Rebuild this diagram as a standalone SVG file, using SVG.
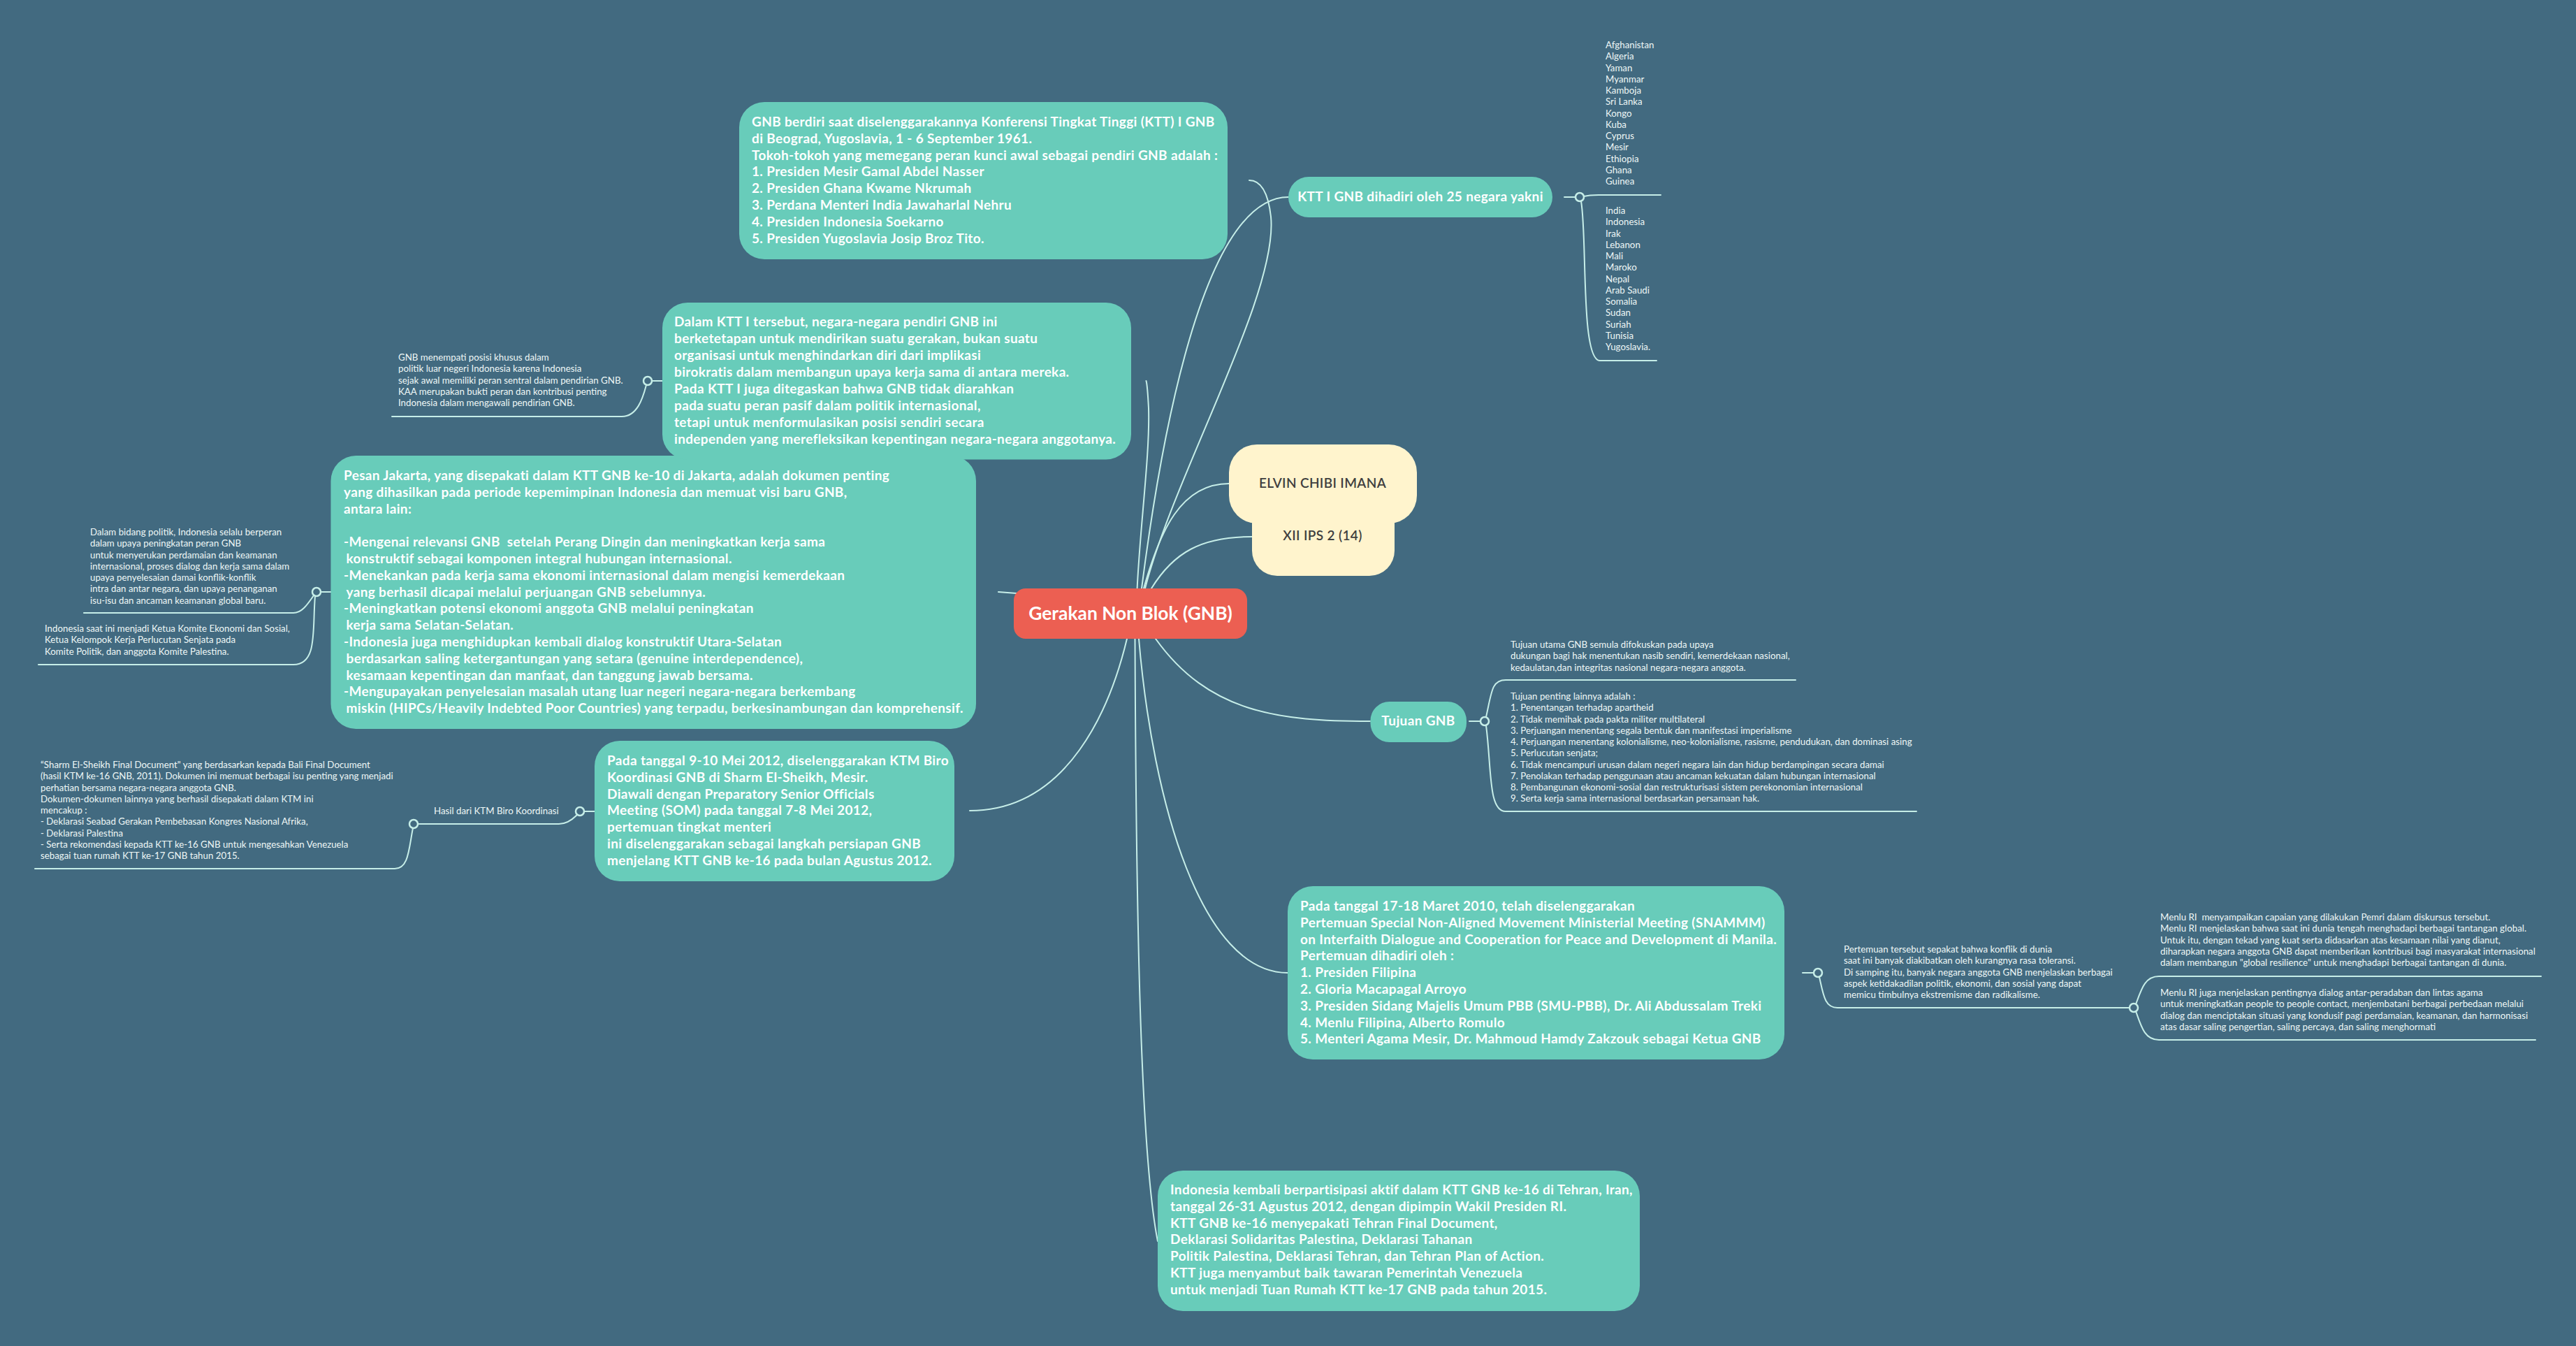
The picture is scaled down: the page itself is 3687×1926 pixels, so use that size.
<svg xmlns="http://www.w3.org/2000/svg" width="3687" height="1926" viewBox="0 0 3687 1926">
<style>
.t{fill:#68ccba}.y{fill:#fff4cd}
text{font-family:"Lato","Noto Sans",sans-serif;white-space:pre}
.b{font-size:19px;letter-spacing:.35px;font-weight:700;fill:#fff}
.s{font-size:13.3px;font-weight:400;fill:#eef7f6}
.c{fill:none;stroke:#c6eee8;stroke-width:2;stroke-linecap:round}
.d{fill:none;stroke:#c6eee8;stroke-width:2.5}
.m{text-anchor:middle}
</style>
<rect width="3687" height="1926" fill="#426a80"/>
<g id="connectors">
<path class="c" d="M1639 842C1680 680 1830 420 1819 310C1815 275 1805 258 1788 258"/>
<path class="c" d="M1634 842C1660 640 1720 282 1844 282"/>
<path class="c" d="M1627.6 842C1632 750 1646 650 1644 584C1643 565 1642 550 1640.5 545"/>
<path class="c" d="M1637 842C1660 760 1690 692 1759 692"/>
<path class="c" d="M1648 842C1680 790 1720 768 1792 768"/>
<path class="c" d="M1429 847L1455 849"/>
<path class="c" d="M1613 914C1590 1010 1530 1160 1388 1160"/>
<path class="c" d="M1654 914C1730 1020 1830 1032 1961 1032"/>
<path class="c" d="M1630 914C1650 1150 1720 1392 1843 1392"/>
<path class="c" d="M1624.5 914C1626 1300 1632 1650 1657 1776"/>
<path class="c" d="M948 545H933M925 551C920 570 912 596 890 596H561"/>
<circle class="d" cx="927" cy="545" r="6"/>
<path class="c" d="M474 847H459M449 852C440 865 432 877 420 877H120M451 853C447 900 455 951 420 951H55"/>
<circle class="d" cx="453" cy="847" r="6"/>
<path class="c" d="M851 1161H836M826 1166C820 1172 812 1179 800 1179H598M591 1185C585 1215 585 1243 565 1243H50"/>
<circle class="d" cx="830" cy="1161" r="6"/>
<circle class="d" cx="592" cy="1179" r="6"/>
<path class="c" d="M2239 282H2255M2267 281C2275 279 2280 279 2290 279H2377M2263 288C2272 340 2262 516 2290 516H2371"/>
<circle class="d" cx="2261" cy="282" r="6"/>
<path class="c" d="M2103 1032H2119M2127 1026C2135 990 2135 973 2155 973H2570M2127 1038C2135 1100 2130 1161 2155 1161H2743"/>
<circle class="d" cx="2125" cy="1032" r="6"/>
<path class="c" d="M2580 1392H2596M2604 1398C2610 1425 2612 1442 2630 1442H3048M3057 1437C3065 1415 3070 1397 3090 1397H3637M3057 1447C3065 1470 3070 1488 3090 1488H3629"/>
<circle class="d" cx="2602" cy="1392" r="6"/>
<circle class="d" cx="3054" cy="1442" r="6"/>
</g>
<g id="node-pesan-jakarta">
<rect class="t" x="473.500" y="652" width="923.500" height="391" rx="36"/>
<text class="b" y="687"><tspan x="492">Pesan Jakarta, yang disepakati dalam KTT GNB ke-10 di Jakarta, adalah dokumen penting</tspan><tspan x="492" dy="23.8">yang dihasilkan pada periode kepemimpinan Indonesia dan memuat visi baru GNB,</tspan><tspan x="492" dy="23.8">antara lain:</tspan><tspan x="492" dy="47.600">-Mengenai relevansi GNB  setelah Perang Dingin dan meningkatkan kerja sama</tspan><tspan x="495.500" dy="23.8">konstruktif sebagai komponen integral hubungan internasional.</tspan><tspan x="492" dy="23.8">-Menekankan pada kerja sama ekonomi internasional dalam mengisi kemerdekaan</tspan><tspan x="495.500" dy="23.8">yang berhasil dicapai melalui perjuangan GNB sebelumnya.</tspan><tspan x="492" dy="23.8">-Meningkatkan potensi ekonomi anggota GNB melalui peningkatan</tspan><tspan x="495.500" dy="23.8">kerja sama Selatan-Selatan.</tspan><tspan x="492" dy="23.8">-Indonesia juga menghidupkan kembali dialog konstruktif Utara-Selatan</tspan><tspan x="495.500" dy="23.8">berdasarkan saling ketergantungan yang setara (genuine interdependence),</tspan><tspan x="495.500" dy="23.8">kesamaan kepentingan dan manfaat, dan tanggung jawab bersama.</tspan><tspan x="492" dy="23.8">-Mengupayakan penyelesaian masalah utang luar negeri negara-negara berkembang</tspan><tspan x="495.500" dy="23.8">miskin (HIPCs/Heavily Indebted Poor Countries) yang terpadu, berkesinambungan dan komprehensif.</tspan></text>
</g>
<g id="node-ktt-keputusan">
<rect class="t" x="948" y="433" width="671" height="224.500" rx="36"/>
<text class="b" y="467"><tspan x="965">Dalam KTT I tersebut, negara-negara pendiri GNB ini</tspan><tspan x="965" dy="24">berketetapan untuk mendirikan suatu gerakan, bukan suatu</tspan><tspan x="965" dy="24">organisasi untuk menghindarkan diri dari implikasi</tspan><tspan x="965" dy="24">birokratis dalam membangun upaya kerja sama di antara mereka.</tspan><tspan x="965" dy="24">Pada KTT I juga ditegaskan bahwa GNB tidak diarahkan</tspan><tspan x="965" dy="24">pada suatu peran pasif dalam politik internasional,</tspan><tspan x="965" dy="24">tetapi untuk menformulasikan posisi sendiri secara</tspan><tspan x="965" dy="24">independen yang merefleksikan kepentingan negara-negara anggotanya.</tspan></text>
</g>
<g id="node-gnb-berdiri">
<rect class="t" x="1058" y="146" width="699" height="225" rx="36"/>
<text class="b" y="181"><tspan x="1076">GNB berdiri saat diselenggarakannya Konferensi Tingkat Tinggi (KTT) I GNB</tspan><tspan x="1076" dy="23.8">di Beograd, Yugoslavia, 1 - 6 September 1961.</tspan><tspan x="1076" dy="23.8">Tokoh-tokoh yang memegang peran kunci awal sebagai pendiri GNB adalah :</tspan><tspan x="1076" dy="23.8">1. Presiden Mesir Gamal Abdel Nasser</tspan><tspan x="1076" dy="23.8">2. Presiden Ghana Kwame Nkrumah</tspan><tspan x="1076" dy="23.8">3. Perdana Menteri India Jawaharlal Nehru</tspan><tspan x="1076" dy="23.8">4. Presiden Indonesia Soekarno</tspan><tspan x="1076" dy="23.8">5. Presiden Yugoslavia Josip Broz Tito.</tspan></text>
</g>
<g id="node-ktm-biro">
<rect class="t" x="851" y="1060" width="515" height="201" rx="36"/>
<text class="b" y="1095"><tspan x="869">Pada tanggal 9-10 Mei 2012, diselenggarakan KTM Biro</tspan><tspan x="869" dy="23.8">Koordinasi GNB di Sharm El-Sheikh, Mesir.</tspan><tspan x="869" dy="23.8">Diawali dengan Preparatory Senior Officials</tspan><tspan x="869" dy="23.8">Meeting (SOM) pada tanggal 7-8 Mei 2012,</tspan><tspan x="869" dy="23.8">pertemuan tingkat menteri</tspan><tspan x="869" dy="23.8">ini diselenggarakan sebagai langkah persiapan GNB</tspan><tspan x="869" dy="23.8">menjelang KTT GNB ke-16 pada bulan Agustus 2012.</tspan></text>
</g>
<g id="node-snammm">
<rect class="t" x="1843" y="1268" width="711" height="248" rx="36"/>
<text class="b" y="1303"><tspan x="1861">Pada tanggal 17-18 Maret 2010, telah diselenggarakan</tspan><tspan x="1861" dy="23.8">Pertemuan Special Non-Aligned Movement Ministerial Meeting (SNAMMM)</tspan><tspan x="1861" dy="23.8">on Interfaith Dialogue and Cooperation for Peace and Development di Manila.</tspan><tspan x="1861" dy="23.8">Pertemuan dihadiri oleh :</tspan><tspan x="1861" dy="23.8">1. Presiden Filipina</tspan><tspan x="1861" dy="23.8">2. Gloria Macapagal Arroyo</tspan><tspan x="1861" dy="23.8">3. Presiden Sidang Majelis Umum PBB (SMU-PBB), Dr. Ali Abdussalam Treki</tspan><tspan x="1861" dy="23.8">4. Menlu Filipina, Alberto Romulo</tspan><tspan x="1861" dy="23.8">5. Menteri Agama Mesir, Dr. Mahmoud Hamdy Zakzouk sebagai Ketua GNB</tspan></text>
</g>
<g id="node-tehran">
<rect class="t" x="1657" y="1675" width="690" height="201" rx="36"/>
<text class="b" y="1709"><tspan x="1675">Indonesia kembali berpartisipasi aktif dalam KTT GNB ke-16 di Tehran, Iran,</tspan><tspan x="1675" dy="23.8">tanggal 26-31 Agustus 2012, dengan dipimpin Wakil Presiden RI.</tspan><tspan x="1675" dy="23.8">KTT GNB ke-16 menyepakati Tehran Final Document,</tspan><tspan x="1675" dy="23.8">Deklarasi Solidaritas Palestina, Deklarasi Tahanan</tspan><tspan x="1675" dy="23.8">Politik Palestina, Deklarasi Tehran, dan Tehran Plan of Action.</tspan><tspan x="1675" dy="23.8">KTT juga menyambut baik tawaran Pemerintah Venezuela</tspan><tspan x="1675" dy="23.8">untuk menjadi Tuan Rumah KTT ke-17 GNB pada tahun 2015.</tspan></text>
</g>
<g id="node-ktt-25">
<rect class="t" x="1844" y="253" width="378" height="58" rx="29"/>
<text class="b m" x="2033" y="288">KTT I GNB dihadiri oleh 25 negara yakni</text>
</g>
<g id="node-tujuan">
<rect class="t" x="1961.500" y="1004" width="137.500" height="58" rx="27"/>
<text class="b m" x="2030" y="1038">Tujuan GNB</text>
</g>
<g id="node-xii">
<rect class="y" x="1792" y="710" width="204" height="114" rx="36"/>
<text class="b m" x="1893" y="773" style="fill:#3f3f3f;font-weight:600">XII IPS 2 (14)</text>
</g>
<g id="node-elvin">
<rect class="y" x="1759" y="636" width="269" height="113" rx="40"/>
<text class="b m" x="1893" y="698" style="fill:#3f3f3f;font-weight:600">ELVIN CHIBI IMANA</text>
</g>
<g id="node-center">
<rect x="1451" y="842" width="334" height="72" rx="17" fill="#ec5f52"/>
<text class="m" x="1618" y="887" style="font-size:26.4px;font-weight:700;fill:#fff">Gerakan Non Blok (GNB)</text>
</g>
<g id="note-ktt-negara">
<text class="s" y="69"><tspan x="2298">Afghanistan</tspan><tspan x="2298" dy="16.25">Algeria</tspan><tspan x="2298" dy="16.25">Yaman</tspan><tspan x="2298" dy="16.25">Myanmar</tspan><tspan x="2298" dy="16.25">Kamboja</tspan><tspan x="2298" dy="16.25">Sri Lanka</tspan><tspan x="2298" dy="16.25">Kongo</tspan><tspan x="2298" dy="16.25">Kuba</tspan><tspan x="2298" dy="16.25">Cyprus</tspan><tspan x="2298" dy="16.25">Mesir</tspan><tspan x="2298" dy="16.25">Ethiopia</tspan><tspan x="2298" dy="16.25">Ghana</tspan><tspan x="2298" dy="16.25">Guinea</tspan></text>
<text class="s" y="306"><tspan x="2298">India</tspan><tspan x="2298" dy="16.25">Indonesia</tspan><tspan x="2298" dy="16.25">Irak</tspan><tspan x="2298" dy="16.25">Lebanon</tspan><tspan x="2298" dy="16.25">Mali</tspan><tspan x="2298" dy="16.25">Maroko</tspan><tspan x="2298" dy="16.25">Nepal</tspan><tspan x="2298" dy="16.25">Arab Saudi</tspan><tspan x="2298" dy="16.25">Somalia</tspan><tspan x="2298" dy="16.25">Sudan</tspan><tspan x="2298" dy="16.25">Suriah</tspan><tspan x="2298" dy="16.25">Tunisia</tspan><tspan x="2298" dy="16.25">Yugoslavia.</tspan></text>
</g>
<g id="note-posisi">
<text class="s" y="516"><tspan x="570">GNB menempati posisi khusus dalam</tspan><tspan x="570" dy="16.25">politik luar negeri Indonesia karena Indonesia</tspan><tspan x="570" dy="16.25">sejak awal memiliki peran sentral dalam pendirian GNB.</tspan><tspan x="570" dy="16.25">KAA merupakan bukti peran dan kontribusi penting</tspan><tspan x="570" dy="16.25">Indonesia dalam mengawali pendirian GNB.</tspan></text>
</g>
<g id="note-politik">
<text class="s" y="766"><tspan x="129">Dalam bidang politik, Indonesia selalu berperan</tspan><tspan x="129" dy="16.25">dalam upaya peningkatan peran GNB</tspan><tspan x="129" dy="16.25">untuk menyerukan perdamaian dan keamanan</tspan><tspan x="129" dy="16.25">internasional, proses dialog dan kerja sama dalam</tspan><tspan x="129" dy="16.25">upaya penyelesaian damai konflik-konflik</tspan><tspan x="129" dy="16.25">intra dan antar negara, dan upaya penanganan</tspan><tspan x="129" dy="16.25">isu-isu dan ancaman keamanan global baru.</tspan></text>
</g>
<g id="note-ketua">
<text class="s" y="904"><tspan x="64">Indonesia saat ini menjadi Ketua Komite Ekonomi dan Sosial,</tspan><tspan x="64" dy="16.25">Ketua Kelompok Kerja Perlucutan Senjata pada</tspan><tspan x="64" dy="16.25">Komite Politik, dan anggota Komite Palestina.</tspan></text>
</g>
<g id="note-hasil">
<text class="s" x="621" y="1165">Hasil dari KTM Biro Koordinasi</text>
</g>
<g id="note-sharm">
<text class="s" y="1099"><tspan x="58">“Sharm El-Sheikh Final Document" yang berdasarkan kepada Bali Final Document</tspan><tspan x="58" dy="16.25">(hasil KTM ke-16 GNB, 2011). Dokumen ini memuat berbagai isu penting yang menjadi</tspan><tspan x="58" dy="16.25">perhatian bersama negara-negara anggota GNB.</tspan><tspan x="58" dy="16.25">Dokumen-dokumen lainnya yang berhasil disepakati dalam KTM ini</tspan><tspan x="58" dy="16.25">mencakup :</tspan><tspan x="58" dy="16.25">- Deklarasi Seabad Gerakan Pembebasan Kongres Nasional Afrika,</tspan><tspan x="58" dy="16.25">- Deklarasi Palestina</tspan><tspan x="58" dy="16.25">- Serta rekomendasi kepada KTT ke-16 GNB untuk mengesahkan Venezuela</tspan><tspan x="58" dy="16.25">sebagai tuan rumah KTT ke-17 GNB tahun 2015.</tspan></text>
</g>
<g id="note-tujuan-utama">
<text class="s" y="927"><tspan x="2162">Tujuan utama GNB semula difokuskan pada upaya</tspan><tspan x="2162" dy="16.25">dukungan bagi hak menentukan nasib sendiri, kemerdekaan nasional,</tspan><tspan x="2162" dy="16.25">kedaulatan,dan integritas nasional negara-negara anggota.</tspan></text>
</g>
<g id="note-tujuan-penting">
<text class="s" y="1001"><tspan x="2162">Tujuan penting lainnya adalah :</tspan><tspan x="2162" dy="16.25">1. Penentangan terhadap apartheid</tspan><tspan x="2162" dy="16.25">2. Tidak memihak pada pakta militer multilateral</tspan><tspan x="2162" dy="16.25">3. Perjuangan menentang segala bentuk dan manifestasi imperialisme</tspan><tspan x="2162" dy="16.25">4. Perjuangan menentang kolonialisme, neo-kolonialisme, rasisme, pendudukan, dan dominasi asing</tspan><tspan x="2162" dy="16.25">5. Perlucutan senjata;</tspan><tspan x="2162" dy="16.25">6. Tidak mencampuri urusan dalam negeri negara lain dan hidup berdampingan secara damai</tspan><tspan x="2162" dy="16.25">7. Penolakan terhadap penggunaan atau ancaman kekuatan dalam hubungan internasional</tspan><tspan x="2162" dy="16.25">8. Pembangunan ekonomi-sosial dan restrukturisasi sistem perekonomian internasional</tspan><tspan x="2162" dy="16.25">9. Serta kerja sama internasional berdasarkan persamaan hak.</tspan></text>
</g>
<g id="note-pertemuan">
<text class="s" y="1363"><tspan x="2639">Pertemuan tersebut sepakat bahwa konflik di dunia</tspan><tspan x="2639" dy="16.25">saat ini banyak diakibatkan oleh kurangnya rasa toleransi.</tspan><tspan x="2639" dy="16.25">Di samping itu, banyak negara anggota GNB menjelaskan berbagai</tspan><tspan x="2639" dy="16.25">aspek ketidakadilan politik, ekonomi, dan sosial yang dapat</tspan><tspan x="2639" dy="16.25">memicu timbulnya ekstremisme dan radikalisme.</tspan></text>
</g>
<g id="note-menlu-capaian">
<text class="s" y="1317"><tspan x="3092">Menlu RI  menyampaikan capaian yang dilakukan Pemri dalam diskursus tersebut.</tspan><tspan x="3092" dy="16.25">Menlu RI menjelaskan bahwa saat ini dunia tengah menghadapi berbagai tantangan global.</tspan><tspan x="3092" dy="16.25">Untuk itu, dengan tekad yang kuat serta didasarkan atas kesamaan nilai yang dianut,</tspan><tspan x="3092" dy="16.25">diharapkan negara anggota GNB dapat memberikan kontribusi bagi masyarakat internasional</tspan><tspan x="3092" dy="16.25">dalam membangun "global resilience" untuk menghadapi berbagai tantangan di dunia.</tspan></text>
</g>
<g id="note-menlu-dialog">
<text class="s" y="1425"><tspan x="3092">Menlu RI juga menjelaskan pentingnya dialog antar-peradaban dan lintas agama</tspan><tspan x="3092" dy="16.25">untuk meningkatkan people to people contact, menjembatani berbagai perbedaan melalui</tspan><tspan x="3092" dy="16.25">dialog dan menciptakan situasi yang kondusif pagi perdamaian, keamanan, dan harmonisasi</tspan><tspan x="3092" dy="16.25">atas dasar saling pengertian, saling percaya, dan saling menghormati</tspan></text>
</g>
</svg>
